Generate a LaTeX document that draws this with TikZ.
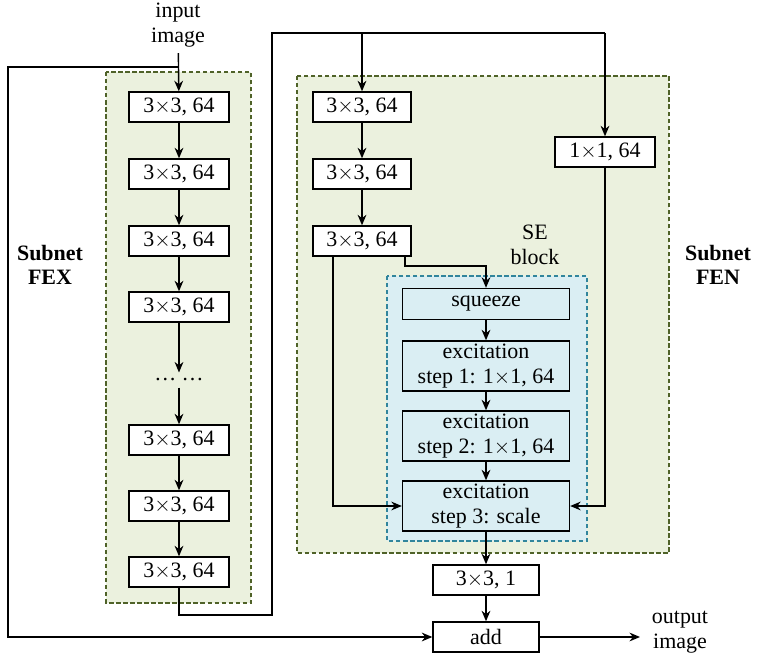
\documentclass[tikz,border=0pt]{standalone}
\usepackage{fontspec}
\setmainfont{Liberation Serif}
\usepackage{xcolor}
\usetikzlibrary{arrows.meta}
\definecolor{fexfill}{HTML}{EBF1DE}
\definecolor{fexline}{HTML}{4F6228}
\definecolor{sefill}{HTML}{DAEEF3}
\definecolor{seline}{HTML}{31859C}
\begin{document}
\begin{tikzpicture}[x=0.02cm, y=-0.02cm,
	every node/.style={font=\fontsize{12.5}{14}\selectfont},
	blk/.style={draw, thick, fill=white, minimum width=2cm, minimum height=0.6cm, inner sep=1pt},
	seblk/.style={draw, thick, fill=sefill, minimum width=3.34cm, align=center, inner sep=1pt},
	region/.style={line width=1.4pt, dash pattern=on 2.5pt off 1.5pt},
	arr/.style={thick, -{Stealth[length=6pt,width=5pt]}},
	ln/.style={thick}]
	\useasboundingbox (0,0) rectangle (767,662);
	% subnet regions
	\draw[region, fexline, fill=fexfill] (106,72) rectangle (251,603);
	\draw[region, fexline, fill=fexfill] (297,76) rectangle (669,553);
	\draw[region, seline, fill=sefill] (387,276) rectangle (587,541);
	\node[font=\fontsize{12.5}{14}\selectfont\bfseries, align=center] (fexlab) at (50,265) {Subnet\\FEX};
	\node[font=\fontsize{12.5}{14}\selectfont\bfseries, align=center] (fenlab) at (718,265) {Subnet\\FEN};
	\node[align=center] (selab) at (535,245) {SE\\block};
	% left column
	\node[align=center] (in) at (178,25) {input\\image};
	\foreach \n/\y in {a1/107, a2/174, a3/241, a4/307, a5/440, a6/506, a7/572}
		\node[blk] (\n) at (179,\y) {3$\times$3, 64};
	\node (dots) at (179,380) {\dots\ \dots};
	\draw[arr] (in) -- (a1);
	\draw[arr] (a1) -- (a2);
	\draw[arr] (a2) -- (a3);
	\draw[arr] (a3) -- (a4);
	\draw[arr] (a4) -- (dots);
	\draw[arr] (dots) -- (a5);
	\draw[arr] (a5) -- (a6);
	\draw[arr] (a6) -- (a7);
	% right column
	\foreach \n/\y in {b1/107, b2/174, b3/241}
		\node[blk, minimum width=1.96cm] (\n) at (362,\y) {3$\times$3, 64};
	\node[blk] (c1) at (605,152) {1$\times$1, 64};
	\node[seblk, minimum height=0.62cm] (sq) at (486,304) {squeeze};
	\node[seblk, minimum height=1cm] (e1) at (486,366) {excitation\\step 1: 1$\times$1, 64};
	\node[seblk, minimum height=1cm] (e2) at (486,436) {excitation\\step 2: 1$\times$1, 64};
	\node[seblk, minimum height=1cm] (e3) at (486,506) {excitation\\step 3: scale};
	\node[blk, minimum width=2.12cm] (c2) at (486,580) {3$\times$3, 1};
	\node[blk, minimum width=2.12cm] (add) at (486,637) {add};
	\node[align=center] (out) at (680,632) {output\\image};
	\coordinate (j0) at (178,67);
	\coordinate (l0) at (8,67);
	\coordinate (l1) at (8,637);
	\coordinate (m0) at (179,615);
	\coordinate (m1) at (272,615);
	\coordinate (m2) at (272,33);
	\coordinate (m3) at (362,33);
	\coordinate (m4) at (605,33);
	\coordinate (s0) at (405,266);
	\coordinate (s1) at (486,266);
	\coordinate (k0) at (333,506);
	\coordinate (r0) at (605,506);
	% connectors
	\draw[arr] (j0) -- (l0) -- (l1) -- (add);
	\draw[ln] (a7) -- (m0) -- (m1) -- (m2) -- (m4);
	\draw[arr] (m4) -- (c1);
	\draw[arr] (m3) -- (b1);
	\draw[arr] (b1) -- (b2);
	\draw[arr] (b2) -- (b3);
	\draw[arr] (b3.south -| s0) -- (s0) -- (s1) -- (sq);
	\draw[arr] (b3.south -| k0) -- (k0) -- (e3);
	\draw[arr] (c1) -- (r0) -- (e3);
	\draw[arr] (sq) -- (e1);
	\draw[arr] (e1) -- (e2);
	\draw[arr] (e2) -- (e3);
	\draw[arr] (e3) -- (c2);
	\draw[arr] (c2) -- (add);
	\draw[arr] (add) -- (640,637);
\end{tikzpicture}
\end{document}
